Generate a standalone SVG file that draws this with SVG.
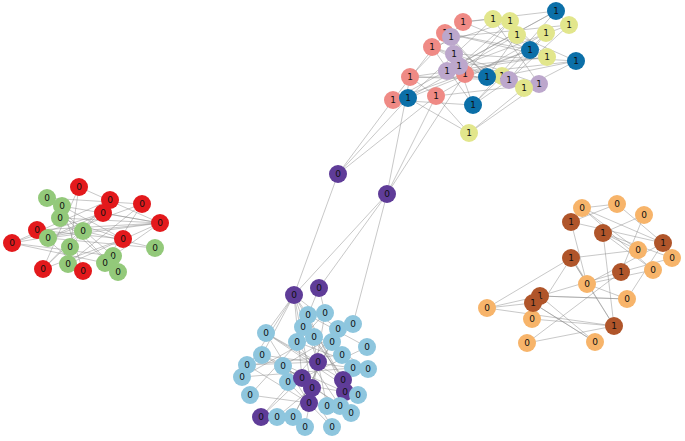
<svg xmlns="http://www.w3.org/2000/svg" width="685" height="441" viewBox="0 0 685 441">
<style>
.e{fill:none;stroke:#8c8c8c;stroke-width:0.6;stroke-opacity:0.8}
circle{r:9px;stroke:none}
text{font-family:"DejaVu Sans",sans-serif;font-size:9px;text-anchor:middle;dominant-baseline:central;fill:#111}
.s{fill:#ef8a85}.l{fill:#bca7cc}.b{fill:#0b6fa8}.y{fill:#e2e68c}.p{fill:#5f3c98}.c{fill:#8ec6de}.r{fill:#e3191c}.g{fill:#93c97a}.o{fill:#f7b46a}.n{fill:#b0552a}
</style>
<rect width="685" height="441" fill="#fff"/>
<g id="connectors">
<path class="e" d="M463,22L556,11M463,22L493,19M445,33L530,50M432,47L510,21M410,77L487,77M393,100L473,105M436,96L546,33M465,74L576,61M451,37L569,25M454,54L539,84M459,66L547,57M447,71L524,88M509,80L410,77M539,84L436,96M556,11L447,71M530,50L393,100M576,61L517,35M487,77L432,47M408,98L530,50M473,105L556,11M493,19L408,98M510,21L465,74M517,35L408,98M569,25L509,80M546,33L473,105M547,57L445,33M524,88L469,133M469,133L408,98M469,133L539,84M502,76L432,47M502,76L576,61M463,22L410,77M445,33L393,100M432,47L473,105M410,77L547,57M393,100L556,11M436,96L469,133M465,74L524,88M451,37L487,77M454,54L576,61M459,66L510,21M447,71L569,25M509,80L546,33M539,84L493,19M530,50L463,22M576,61L524,88M487,77L517,35M473,105L509,80M410,77L436,96M393,100L408,98M432,47L454,54M556,11L569,25M510,21L547,57M445,33L487,77M459,66L473,105"/>
<path class="e" d="M338,174L393,100M338,174L294,295M338,174L436,96M387,194L410,77M387,194L436,96M387,194L319,288M387,194L353,324M387,194L465,74M338,174L408,98M294,295L387,194"/>
<path class="e" d="M294,295L308,315M294,295L266,333M294,295L338,329M294,295L262,355M294,295L312,388M319,288L325,313M319,288L297,342M308,315L367,347M325,313L250,395M266,333L343,380M303,327L358,395M297,342L368,369M314,337L242,377M338,329L261,417M353,324L283,366M332,342L293,417M342,355L247,365M367,347L302,378M262,355L345,392M283,366L340,406M247,365L318,362M242,377L353,368M288,382L332,427M353,368L262,355M368,369L303,327M250,395L309,403M358,395L266,333M327,406L308,315M340,406L297,342M351,413L283,366M277,417L312,388M293,417L338,329M305,427L318,362M332,427L302,378M318,362L266,333M302,378L262,355M312,388L325,313M309,403L247,365M343,380L314,337M345,392L288,382M261,417L302,378M294,295L302,378M294,295L318,362M294,295L343,380M294,295L242,377M308,315L345,392M266,333L309,403"/>
<path class="e" d="M79,187L160,223M110,200L12,243M142,204L48,238M103,213L160,223M160,223L37,230M160,223L68,264M160,223L113,256M37,230L123,239M12,243L83,231M123,239L43,269M43,269L110,200M83,271L62,206M47,198L142,204M62,206L160,223M60,218L123,239M83,231L155,248M48,238L103,213M70,247L79,187M155,248L48,238M113,256L47,198M105,263L12,243M68,264L142,204M118,272L60,218M79,187L43,269M110,200L70,247M142,204L105,263M103,213L12,243M37,230L83,271M123,239L62,206M160,223L60,218M160,223L48,238M160,223L83,231M47,198L118,272M83,231L43,269M12,243L113,256"/>
<path class="e" d="M582,208L617,204M582,208L663,243M617,204L571,222M644,215L603,233M638,250L571,258M672,258L621,272M653,270L587,284M587,284L627,299M627,299L540,296M487,308L571,258M487,308L614,326M532,319L614,326M527,343L621,272M595,342L533,303M571,222L663,243M603,233L653,270M663,243L587,284M571,258L587,284M621,272L540,296M540,296L627,299M533,303L595,342M614,326L603,233M614,326L571,258M582,208L638,250M617,204L663,243M644,215L621,272M603,233L638,250M571,222L587,284M487,308L540,296M527,343L614,326M532,319L571,258M595,342L540,296M627,299L663,243M672,258L603,233M653,270L582,208M487,308L533,303M614,326L572,258"/>
</g>
<g id="top">
<g id="t1"><circle class="s" cx="463" cy="22"/><text x="463" y="22">1</text></g>
<g id="t2"><circle class="s" cx="445" cy="33"/><text x="445" y="33">1</text></g>
<g id="t3"><circle class="s" cx="432" cy="47"/><text x="432" y="47">1</text></g>
<g id="t4"><circle class="s" cx="410" cy="77"/><text x="410" y="77">1</text></g>
<g id="t5"><circle class="s" cx="393" cy="100"/><text x="393" y="100">1</text></g>
<g id="t6"><circle class="s" cx="436" cy="96"/><text x="436" y="96">1</text></g>
<g id="t7"><circle class="s" cx="465" cy="74"/><text x="465" y="74">1</text></g>
<g id="t8"><circle class="l" cx="451" cy="37"/><text x="451" y="37">1</text></g>
<g id="t9"><circle class="l" cx="454" cy="54"/><text x="454" y="54">1</text></g>
<g id="t10"><circle class="l" cx="459" cy="66"/><text x="459" y="66">1</text></g>
<g id="t11"><circle class="l" cx="447" cy="71"/><text x="447" y="71">1</text></g>
<g id="t12"><circle class="y" cx="502" cy="76"/><text x="502" y="76">1</text></g>
<g id="t13"><circle class="l" cx="509" cy="80"/><text x="509" y="80">1</text></g>
<g id="t14"><circle class="l" cx="539" cy="84"/><text x="539" y="84">1</text></g>
<g id="t15"><circle class="b" cx="556" cy="11"/><text x="556" y="11">1</text></g>
<g id="t16"><circle class="b" cx="530" cy="50"/><text x="530" y="50">1</text></g>
<g id="t17"><circle class="b" cx="576" cy="61"/><text x="576" y="61">1</text></g>
<g id="t18"><circle class="b" cx="487" cy="77"/><text x="487" y="77">1</text></g>
<g id="t19"><circle class="b" cx="408" cy="98"/><text x="408" y="98">1</text></g>
<g id="t20"><circle class="b" cx="473" cy="105"/><text x="473" y="105">1</text></g>
<g id="t21"><circle class="y" cx="493" cy="19"/><text x="493" y="19">1</text></g>
<g id="t22"><circle class="y" cx="510" cy="21"/><text x="510" y="21">1</text></g>
<g id="t23"><circle class="y" cx="517" cy="35"/><text x="517" y="35">1</text></g>
<g id="t24"><circle class="y" cx="569" cy="25"/><text x="569" y="25">1</text></g>
<g id="t25"><circle class="y" cx="546" cy="33"/><text x="546" y="33">1</text></g>
<g id="t26"><circle class="y" cx="547" cy="57"/><text x="547" y="57">1</text></g>
<g id="t27"><circle class="y" cx="524" cy="88"/><text x="524" y="88">1</text></g>
<g id="t28"><circle class="y" cx="469" cy="133"/><text x="469" y="133">1</text></g>
</g>
<g id="mid">
<g id="m1"><circle class="p" cx="338" cy="174"/><text x="338" y="174">0</text></g>
<g id="m2"><circle class="p" cx="387" cy="194"/><text x="387" y="194">0</text></g>
</g>
<g id="bottom">
<g id="b1"><circle class="p" cx="294" cy="295"/><text x="294" y="295">0</text></g>
<g id="b2"><circle class="p" cx="319" cy="288"/><text x="319" y="288">0</text></g>
<g id="b3"><circle class="c" cx="308" cy="315"/><text x="308" y="315">0</text></g>
<g id="b4"><circle class="c" cx="325" cy="313"/><text x="325" y="313">0</text></g>
<g id="b5"><circle class="c" cx="266" cy="333"/><text x="266" y="333">0</text></g>
<g id="b6"><circle class="c" cx="303" cy="327"/><text x="303" y="327">0</text></g>
<g id="b7"><circle class="c" cx="297" cy="342"/><text x="297" y="342">0</text></g>
<g id="b8"><circle class="c" cx="314" cy="337"/><text x="314" y="337">0</text></g>
<g id="b9"><circle class="c" cx="338" cy="329"/><text x="338" y="329">0</text></g>
<g id="b10"><circle class="c" cx="353" cy="324"/><text x="353" y="324">0</text></g>
<g id="b11"><circle class="c" cx="332" cy="342"/><text x="332" y="342">0</text></g>
<g id="b12"><circle class="c" cx="342" cy="355"/><text x="342" y="355">0</text></g>
<g id="b13"><circle class="c" cx="367" cy="347"/><text x="367" y="347">0</text></g>
<g id="b14"><circle class="c" cx="262" cy="355"/><text x="262" y="355">0</text></g>
<g id="b15"><circle class="c" cx="283" cy="366"/><text x="283" y="366">0</text></g>
<g id="b16"><circle class="c" cx="247" cy="365"/><text x="247" y="365">0</text></g>
<g id="b17"><circle class="c" cx="242" cy="377"/><text x="242" y="377">0</text></g>
<g id="b18"><circle class="c" cx="288" cy="382"/><text x="288" y="382">0</text></g>
<g id="b19"><circle class="p" cx="318" cy="362"/><text x="318" y="362">0</text></g>
<g id="b20"><circle class="c" cx="353" cy="368"/><text x="353" y="368">0</text></g>
<g id="b21"><circle class="c" cx="368" cy="369"/><text x="368" y="369">0</text></g>
<g id="b22"><circle class="p" cx="302" cy="378"/><text x="302" y="378">0</text></g>
<g id="b23"><circle class="p" cx="343" cy="380"/><text x="343" y="380">0</text></g>
<g id="b24"><circle class="p" cx="345" cy="392"/><text x="345" y="392">0</text></g>
<g id="b25"><circle class="p" cx="312" cy="388"/><text x="312" y="388">0</text></g>
<g id="b26"><circle class="p" cx="309" cy="403"/><text x="309" y="403">0</text></g>
<g id="b27"><circle class="c" cx="250" cy="395"/><text x="250" y="395">0</text></g>
<g id="b28"><circle class="c" cx="358" cy="395"/><text x="358" y="395">0</text></g>
<g id="b29"><circle class="c" cx="327" cy="406"/><text x="327" y="406">0</text></g>
<g id="b30"><circle class="c" cx="340" cy="406"/><text x="340" y="406">0</text></g>
<g id="b31"><circle class="c" cx="351" cy="413"/><text x="351" y="413">0</text></g>
<g id="b32"><circle class="p" cx="261" cy="417"/><text x="261" y="417">0</text></g>
<g id="b33"><circle class="c" cx="277" cy="417"/><text x="277" y="417">0</text></g>
<g id="b34"><circle class="c" cx="293" cy="417"/><text x="293" y="417">0</text></g>
<g id="b35"><circle class="c" cx="305" cy="427"/><text x="305" y="427">0</text></g>
<g id="b36"><circle class="c" cx="332" cy="427"/><text x="332" y="427">0</text></g>
</g>
<g id="left">
<g id="l1"><circle class="g" cx="47" cy="198"/><text x="47" y="198">0</text></g>
<g id="l2"><circle class="g" cx="62" cy="206"/><text x="62" y="206">0</text></g>
<g id="l3"><circle class="g" cx="60" cy="218"/><text x="60" y="218">0</text></g>
<g id="l4"><circle class="r" cx="79" cy="187"/><text x="79" y="187">0</text></g>
<g id="l5"><circle class="r" cx="110" cy="200"/><text x="110" y="200">0</text></g>
<g id="l6"><circle class="r" cx="142" cy="204"/><text x="142" y="204">0</text></g>
<g id="l7"><circle class="r" cx="103" cy="213"/><text x="103" y="213">0</text></g>
<g id="l8"><circle class="r" cx="160" cy="223"/><text x="160" y="223">0</text></g>
<g id="l9"><circle class="r" cx="37" cy="230"/><text x="37" y="230">0</text></g>
<g id="l10"><circle class="r" cx="12" cy="243"/><text x="12" y="243">0</text></g>
<g id="l11"><circle class="r" cx="123" cy="239"/><text x="123" y="239">0</text></g>
<g id="l12"><circle class="g" cx="83" cy="231"/><text x="83" y="231">0</text></g>
<g id="l13"><circle class="g" cx="48" cy="238"/><text x="48" y="238">0</text></g>
<g id="l14"><circle class="g" cx="70" cy="247"/><text x="70" y="247">0</text></g>
<g id="l15"><circle class="g" cx="155" cy="248"/><text x="155" y="248">0</text></g>
<g id="l16"><circle class="g" cx="113" cy="256"/><text x="113" y="256">0</text></g>
<g id="l17"><circle class="g" cx="105" cy="263"/><text x="105" y="263">0</text></g>
<g id="l18"><circle class="g" cx="68" cy="264"/><text x="68" y="264">0</text></g>
<g id="l19"><circle class="r" cx="43" cy="269"/><text x="43" y="269">0</text></g>
<g id="l20"><circle class="r" cx="83" cy="271"/><text x="83" y="271">0</text></g>
<g id="l21"><circle class="g" cx="118" cy="272"/><text x="118" y="272">0</text></g>
</g>
<g id="right">
<g id="r1"><circle class="o" cx="582" cy="208"/><text x="582" y="208">0</text></g>
<g id="r2"><circle class="o" cx="617" cy="204"/><text x="617" y="204">0</text></g>
<g id="r3"><circle class="o" cx="644" cy="215"/><text x="644" y="215">0</text></g>
<g id="r4"><circle class="o" cx="638" cy="250"/><text x="638" y="250">0</text></g>
<g id="r5"><circle class="o" cx="672" cy="258"/><text x="672" y="258">0</text></g>
<g id="r6"><circle class="o" cx="653" cy="270"/><text x="653" y="270">0</text></g>
<g id="r7"><circle class="o" cx="587" cy="284"/><text x="587" y="284">0</text></g>
<g id="r8"><circle class="o" cx="627" cy="299"/><text x="627" y="299">0</text></g>
<g id="r9"><circle class="o" cx="487" cy="308"/><text x="487" y="308">0</text></g>
<g id="r10"><circle class="o" cx="532" cy="319"/><text x="532" y="319">0</text></g>
<g id="r11"><circle class="o" cx="527" cy="343"/><text x="527" y="343">0</text></g>
<g id="r12"><circle class="o" cx="595" cy="342"/><text x="595" y="342">0</text></g>
<g id="r13"><circle class="n" cx="571" cy="222"/><text x="571" y="222">1</text></g>
<g id="r14"><circle class="n" cx="603" cy="233"/><text x="603" y="233">1</text></g>
<g id="r15"><circle class="n" cx="663" cy="243"/><text x="663" y="243">1</text></g>
<g id="r16"><circle class="n" cx="571" cy="258"/><text x="571" y="258">1</text></g>
<g id="r17"><circle class="n" cx="621" cy="272"/><text x="621" y="272">1</text></g>
<g id="r18"><circle class="n" cx="540" cy="296"/><text x="540" y="296">1</text></g>
<g id="r19"><circle class="n" cx="533" cy="303"/><text x="533" y="303">1</text></g>
<g id="r20"><circle class="n" cx="614" cy="326"/><text x="614" y="326">1</text></g>
</g>
</svg>
